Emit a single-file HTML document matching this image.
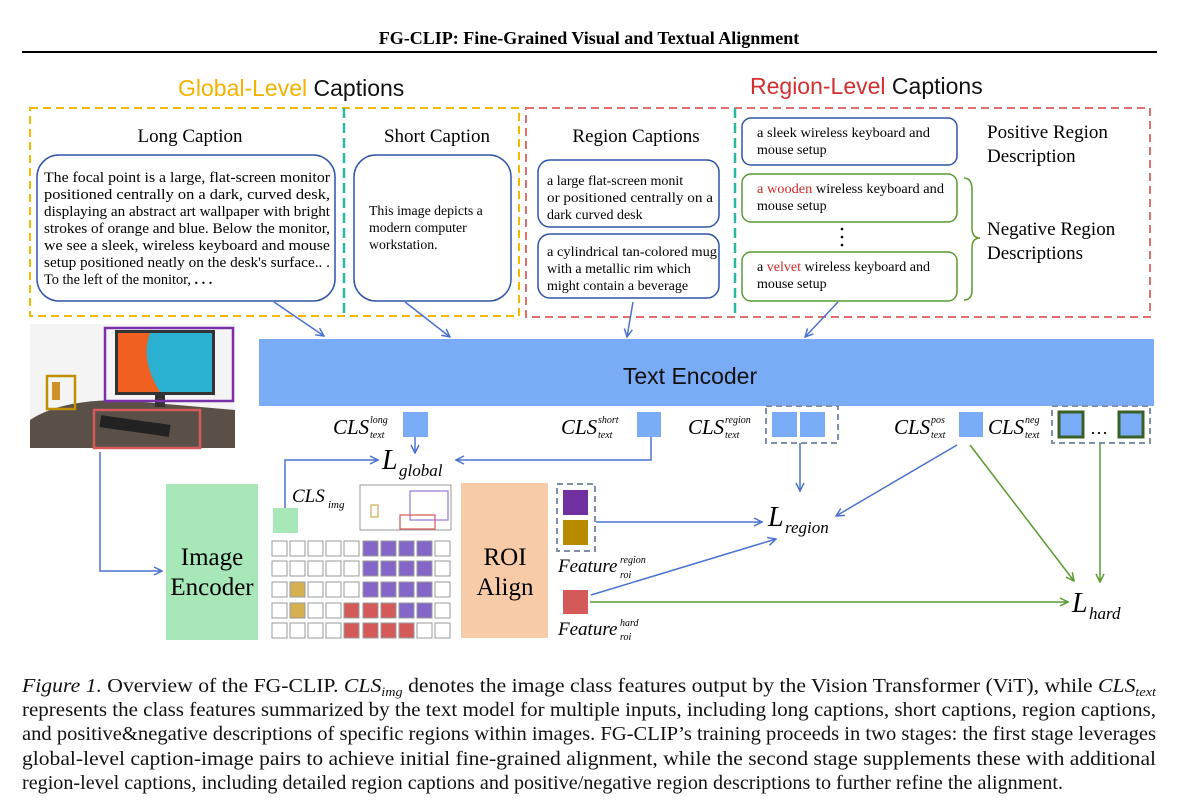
<!DOCTYPE html>
<html><head><meta charset="utf-8"><style>
body{margin:0;background:#fff;width:1178px;height:809px;overflow:hidden}
svg{display:block}
.s{font-family:"Liberation Serif",serif}
.i{font-family:"Liberation Serif",serif;font-style:italic}
</style></head><body>
<svg width="1178" height="809" viewBox="0 0 1178 809" xmlns="http://www.w3.org/2000/svg">
<defs>
<marker id="ab" markerWidth="10" markerHeight="10" refX="9" refY="5" orient="auto" markerUnits="userSpaceOnUse"><path d="M1,1 L9,5 L1,9" fill="none" stroke="#4a72d0" stroke-width="1.5"/></marker>
<marker id="ag" markerWidth="10" markerHeight="10" refX="9" refY="5" orient="auto" markerUnits="userSpaceOnUse"><path d="M1,1 L9,5 L1,9" fill="none" stroke="#5a9a30" stroke-width="1.5"/></marker>
</defs>
<text class="s" x="589" y="44" font-size="18" font-weight="bold" text-anchor="middle">FG-CLIP: Fine-Grained Visual and Textual Alignment</text>
<line x1="22" y1="52" x2="1157" y2="52" stroke="#000" stroke-width="2"/>

<text x="178" y="96" font-family="Liberation Sans,sans-serif" font-size="23"><tspan fill="#f2b200">Global-Level</tspan> <tspan fill="#111">Captions</tspan></text>
<text x="750" y="94" font-family="Liberation Sans,sans-serif" font-size="23"><tspan fill="#d23030">Region-Level</tspan> <tspan fill="#111">Captions</tspan></text>

<rect x="30" y="108" width="489" height="208" fill="none" stroke="#f5b800" stroke-width="2" stroke-dasharray="8,5"/>
<line x1="344" y1="108" x2="344" y2="316" stroke="#2bb8a0" stroke-width="2.5" stroke-dasharray="10,5"/>
<rect x="526" y="108" width="624" height="209" fill="none" stroke="#e07070" stroke-width="2" stroke-dasharray="8,5"/>
<line x1="735" y1="108" x2="735" y2="317" stroke="#2bb8a0" stroke-width="2.5" stroke-dasharray="10,5"/>

<text class="s" x="190" y="142" font-size="19" text-anchor="middle">Long Caption</text>
<rect x="37" y="155" width="298" height="146" rx="22" fill="#fff" stroke="#2f53a8" stroke-width="1.5"/>
<g class="s" font-size="14.3">
<text x="44" y="182" textLength="286" lengthAdjust="spacingAndGlyphs">The focal point is a large, flat-screen monitor</text>
<text x="44" y="199" textLength="286" lengthAdjust="spacingAndGlyphs">positioned centrally on a dark, curved desk,</text>
<text x="44" y="216" textLength="286" lengthAdjust="spacingAndGlyphs">displaying an abstract art wallpaper with bright</text>
<text x="44" y="233" textLength="286" lengthAdjust="spacingAndGlyphs">strokes of orange and blue. Below the monitor,</text>
<text x="44" y="250" textLength="286" lengthAdjust="spacingAndGlyphs">we see a sleek, wireless keyboard and mouse</text>
<text x="44" y="267" textLength="286" lengthAdjust="spacingAndGlyphs">setup positioned neatly on the desk's surface.. .</text>
<text x="44" y="284">To the left of the monitor, <tspan font-weight="bold">. . .</tspan></text>
</g>
<text class="s" x="437" y="142" font-size="19" text-anchor="middle">Short Caption</text>
<rect x="354" y="155" width="157" height="146" rx="22" fill="#fff" stroke="#2f53a8" stroke-width="1.5"/>
<g class="s" font-size="13.8">
<text x="369" y="215">This image depicts a</text>
<text x="369" y="232">modern computer</text>
<text x="369" y="249">workstation.</text>
</g>

<text class="s" x="636" y="142" font-size="19" text-anchor="middle">Region Captions</text>
<rect x="538" y="160" width="181" height="67" rx="12" fill="#fff" stroke="#2f53a8" stroke-width="1.5"/>
<rect x="538" y="234" width="181" height="64" rx="12" fill="#fff" stroke="#2f53a8" stroke-width="1.5"/>
<g class="s" font-size="14">
<text x="547" y="185">a large flat-screen monit</text>
<text x="547" y="202" textLength="166" lengthAdjust="spacingAndGlyphs">or positioned centrally on a</text>
<text x="547" y="219">dark curved desk</text>
<text x="547" y="256" textLength="170" lengthAdjust="spacingAndGlyphs">a cylindrical tan-colored mug</text>
<text x="547" y="273">with a metallic rim which</text>
<text x="547" y="290">might contain a beverage</text>
</g>

<rect x="742" y="118" width="215" height="47" rx="9" fill="#fff" stroke="#2f53a8" stroke-width="1.5"/>
<rect x="742" y="174" width="215" height="48" rx="9" fill="#fff" stroke="#5a9a30" stroke-width="1.5"/>
<rect x="742" y="252" width="215" height="49" rx="9" fill="#fff" stroke="#5a9a30" stroke-width="1.5"/>
<g class="s" font-size="14">
<text x="757" y="137" textLength="173" lengthAdjust="spacingAndGlyphs">a sleek wireless keyboard and</text>
<text x="757" y="154">mouse setup</text>
<text x="757" y="193" textLength="187" lengthAdjust="spacingAndGlyphs"><tspan fill="#d02828">a wooden</tspan> wireless keyboard and</text>
<text x="757" y="210">mouse setup</text>
<text x="757" y="271" textLength="173" lengthAdjust="spacingAndGlyphs">a <tspan fill="#d02828">velvet</tspan> wireless keyboard and</text>
<text x="757" y="288">mouse setup</text>
</g>
<g fill="#000"><circle cx="842" cy="229" r="1.3"/><circle cx="842" cy="237" r="1.3"/><circle cx="842" cy="245" r="1.3"/></g>
<path d="M964,178 Q972,178 972,190 L972,228 Q972,238 980,238 Q972,238 972,248 L972,290 Q972,300 964,300" fill="none" stroke="#5a9a30" stroke-width="1.5"/>
<g class="s" font-size="19">
<text x="987" y="138">Positive Region</text>
<text x="987" y="162">Description</text>
<text x="987" y="235">Negative Region</text>
<text x="987" y="259">Descriptions</text>
</g>

<g stroke="#4a72d0" stroke-width="1.5" fill="none">
<line x1="274" y1="302" x2="324" y2="336" marker-end="url(#ab)"/>
<line x1="405" y1="302" x2="450" y2="337" marker-end="url(#ab)"/>
<line x1="633" y1="302" x2="627" y2="337" marker-end="url(#ab)"/>
<line x1="838" y1="302" x2="805" y2="337" marker-end="url(#ab)"/>
</g>

<rect x="259" y="339" width="895" height="67" fill="#7aabf7"/>
<text x="690" y="384" font-family="Liberation Sans,sans-serif" font-size="23" text-anchor="middle" fill="#111">Text Encoder</text>

<!-- photo -->
<rect x="30" y="324" width="205" height="124" fill="#f4f4f4"/>
<path d="M30,420 Q60,400 120,400 L235,410 L235,448 L30,448Z" fill="#5a5048"/>
<rect x="115" y="330" width="100" height="65" fill="#333"/>
<rect x="118" y="333" width="94" height="59" fill="#2ab0d0"/>
<path d="M118,333 L150,333 Q140,360 160,392 L118,392Z" fill="#f06020"/>
<rect x="155" y="395" width="10" height="12" fill="#333"/>
<rect x="100" y="420" width="70" height="12" fill="#222" transform="rotate(8 135 426)"/>
<rect x="52" y="382" width="8" height="18" fill="#d0902a"/>
<rect x="105" y="328" width="128" height="73" fill="none" stroke="#7a30a8" stroke-width="2.5"/>
<rect x="47" y="376" width="28" height="33" fill="none" stroke="#c09000" stroke-width="2.5"/>
<rect x="94" y="410" width="106" height="38" fill="none" stroke="#d85a5a" stroke-width="2.5"/>

<!-- CLS labels -->
<g class="i" font-size="21">
<text x="333" y="434">CLS</text>
<text x="561" y="434">CLS</text>
<text x="688" y="434">CLS</text>
<text x="894" y="434">CLS</text>
<text x="988" y="434">CLS</text>
</g>
<g class="i" font-size="10">
<text x="370" y="423">long</text><text x="370" y="438">text</text>
<text x="598" y="423">short</text><text x="598" y="438">text</text>
<text x="725" y="423">region</text><text x="725" y="438">text</text>
<text x="931" y="423">pos</text><text x="931" y="438">text</text>
<text x="1025" y="423">neg</text><text x="1025" y="438">text</text>
</g>
<g fill="#7aabf7">
<rect x="403" y="412" width="25" height="25"/>
<rect x="637" y="412" width="24" height="25"/>
<rect x="772" y="412" width="25" height="25"/>
<rect x="800" y="412" width="25" height="25"/>
<rect x="959" y="412" width="24" height="25"/>
</g>
<rect x="766" y="406" width="72" height="37" fill="none" stroke="#8090a8" stroke-width="2" stroke-dasharray="6,4"/>
<rect x="1052" y="406" width="98" height="37" fill="none" stroke="#8090a8" stroke-width="2" stroke-dasharray="6,4"/>
<rect x="1059" y="412" width="24" height="25" fill="#7aabf7" stroke="#3a6028" stroke-width="3"/>
<rect x="1119" y="412" width="24" height="25" fill="#7aabf7" stroke="#3a6028" stroke-width="3"/>
<text class="s" x="1090" y="434" font-size="18">…</text>

<text class="i" x="382" y="469" font-size="28">L</text><text class="i" x="399" y="476" font-size="17">global</text>
<text class="i" x="768" y="526" font-size="28">L</text><text class="i" x="785" y="533" font-size="17">region</text>
<text class="i" x="1072" y="612" font-size="28">L</text><text class="i" x="1089" y="619" font-size="17">hard</text>

<rect x="166" y="484" width="92" height="156" fill="#a8e8b8"/>
<text class="s" x="212" y="565" font-size="25" text-anchor="middle">Image</text>
<text class="s" x="212" y="595" font-size="25" text-anchor="middle">Encoder</text>

<text class="i" x="292" y="502" font-size="19">CLS</text><text class="i" x="328" y="508" font-size="11">img</text>
<rect x="273" y="508" width="25" height="25" fill="#a8e8b8"/>
<rect x="360" y="485" width="91" height="45" fill="#fff" stroke="#999" stroke-width="1"/>
<rect x="410" y="491" width="38" height="29" fill="none" stroke="#9a80d8" stroke-width="1.3"/>
<rect x="400" y="515" width="35" height="14" fill="none" stroke="#d86060" stroke-width="1.3"/>
<rect x="371" y="505" width="7" height="12" fill="none" stroke="#d0b060" stroke-width="1.3"/>

<g stroke="#999" stroke-width="1">
<rect x="272" y="541" width="15" height="15" fill="#fff"/><rect x="290" y="541" width="15" height="15" fill="#fff"/><rect x="308" y="541" width="15" height="15" fill="#fff"/><rect x="326" y="541" width="15" height="15" fill="#fff"/><rect x="344" y="541" width="15" height="15" fill="#fff"/><rect x="363" y="541" width="15" height="15" fill="#8466c8"/><rect x="381" y="541" width="15" height="15" fill="#8466c8"/><rect x="399" y="541" width="15" height="15" fill="#8466c8"/><rect x="417" y="541" width="15" height="15" fill="#8466c8"/><rect x="435" y="541" width="15" height="15" fill="#fff"/>
<rect x="272" y="561" width="15" height="15" fill="#fff"/><rect x="290" y="561" width="15" height="15" fill="#fff"/><rect x="308" y="561" width="15" height="15" fill="#fff"/><rect x="326" y="561" width="15" height="15" fill="#fff"/><rect x="344" y="561" width="15" height="15" fill="#fff"/><rect x="363" y="561" width="15" height="15" fill="#8466c8"/><rect x="381" y="561" width="15" height="15" fill="#8466c8"/><rect x="399" y="561" width="15" height="15" fill="#8466c8"/><rect x="417" y="561" width="15" height="15" fill="#8466c8"/><rect x="435" y="561" width="15" height="15" fill="#fff"/>
<rect x="272" y="582" width="15" height="15" fill="#fff"/><rect x="290" y="582" width="15" height="15" fill="#d4b050"/><rect x="308" y="582" width="15" height="15" fill="#fff"/><rect x="326" y="582" width="15" height="15" fill="#fff"/><rect x="344" y="582" width="15" height="15" fill="#fff"/><rect x="363" y="582" width="15" height="15" fill="#8466c8"/><rect x="381" y="582" width="15" height="15" fill="#8466c8"/><rect x="399" y="582" width="15" height="15" fill="#8466c8"/><rect x="417" y="582" width="15" height="15" fill="#8466c8"/><rect x="435" y="582" width="15" height="15" fill="#fff"/>
<rect x="272" y="603" width="15" height="15" fill="#fff"/><rect x="290" y="603" width="15" height="15" fill="#d4b050"/><rect x="308" y="603" width="15" height="15" fill="#fff"/><rect x="326" y="603" width="15" height="15" fill="#fff"/><rect x="344" y="603" width="15" height="15" fill="#d45a5a"/><rect x="363" y="603" width="15" height="15" fill="#d45a5a"/><rect x="381" y="603" width="15" height="15" fill="#d45a5a"/><rect x="399" y="603" width="15" height="15" fill="#8466c8"/><rect x="417" y="603" width="15" height="15" fill="#8466c8"/><rect x="435" y="603" width="15" height="15" fill="#fff"/>
<rect x="272" y="623" width="15" height="15" fill="#fff"/><rect x="290" y="623" width="15" height="15" fill="#fff"/><rect x="308" y="623" width="15" height="15" fill="#fff"/><rect x="326" y="623" width="15" height="15" fill="#fff"/><rect x="344" y="623" width="15" height="15" fill="#d45a5a"/><rect x="363" y="623" width="15" height="15" fill="#d45a5a"/><rect x="381" y="623" width="15" height="15" fill="#d45a5a"/><rect x="399" y="623" width="15" height="15" fill="#d45a5a"/><rect x="417" y="623" width="15" height="15" fill="#fff"/><rect x="435" y="623" width="15" height="15" fill="#fff"/>
</g>

<rect x="461" y="483" width="87" height="155" fill="#f7cba8"/>
<text class="s" x="505" y="565" font-size="25" text-anchor="middle">ROI</text>
<text class="s" x="505" y="595" font-size="25" text-anchor="middle">Align</text>

<rect x="557" y="484" width="38" height="67" fill="none" stroke="#8090a8" stroke-width="2" stroke-dasharray="6,4"/>
<rect x="563" y="490" width="25" height="25" fill="#7030a0"/>
<rect x="563" y="520" width="25" height="25" fill="#b88a00"/>
<rect x="563" y="590" width="25" height="24" fill="#d45a5a"/>
<text class="i" x="558" y="572" font-size="19">Feature</text><text class="i" x="620" y="563" font-size="10">region</text><text class="i" x="620" y="578" font-size="10">roi</text>
<text class="i" x="558" y="635" font-size="19">Feature</text><text class="i" x="620" y="626" font-size="10">hard</text><text class="i" x="620" y="640" font-size="10">roi</text>

<g stroke="#4a72d0" stroke-width="1.5" fill="none">
<polyline points="100,452 100,571 162,571" marker-end="url(#ab)"/>
<polyline points="285,508 285,460 378,460" marker-end="url(#ab)"/>
<polyline points="651,437 651,460 456,460" marker-end="url(#ab)"/>
<line x1="415" y1="437" x2="415" y2="453" marker-end="url(#ab)"/>
<line x1="800" y1="443" x2="800" y2="491" marker-end="url(#ab)"/>
<line x1="957" y1="445" x2="836" y2="516" marker-end="url(#ab)"/>
<line x1="596" y1="522" x2="762" y2="522" marker-end="url(#ab)"/>
<line x1="591" y1="595" x2="776" y2="539" marker-end="url(#ab)"/>
</g>
<g stroke="#5a9a30" stroke-width="1.5" fill="none">
<line x1="970" y1="445" x2="1074" y2="581" marker-end="url(#ag)"/>
<line x1="1100" y1="443" x2="1100" y2="582" marker-end="url(#ag)"/>
<line x1="590" y1="602" x2="1068" y2="602" marker-end="url(#ag)"/>
</g>

<g class="s" font-size="19.8" fill="#111">
<text x="22" y="692" textLength="1134" lengthAdjust="spacingAndGlyphs"><tspan font-style="italic">Figure 1.</tspan> Overview of the FG-CLIP. <tspan font-style="italic">CLS<tspan font-size="13" dy="4">img</tspan></tspan><tspan dy="-4"> denotes the image class features output by the Vision Transformer (ViT), while </tspan><tspan font-style="italic">CLS<tspan font-size="13" dy="4">text</tspan></tspan></text>
<text x="22" y="716" textLength="1134" lengthAdjust="spacingAndGlyphs">represents the class features summarized by the text model for multiple inputs, including long captions, short captions, region captions,</text>
<text x="22" y="740" textLength="1134" lengthAdjust="spacingAndGlyphs">and positive&amp;negative descriptions of specific regions within images. FG-CLIP’s training proceeds in two stages: the first stage leverages</text>
<text x="22" y="765" textLength="1134" lengthAdjust="spacingAndGlyphs">global-level caption-image pairs to achieve initial fine-grained alignment, while the second stage supplements these with additional</text>
<text x="22" y="789" textLength="1041" lengthAdjust="spacingAndGlyphs">region-level captions, including detailed region captions and positive/negative region descriptions to further refine the alignment.</text>
</g>
</svg>
</body></html>
